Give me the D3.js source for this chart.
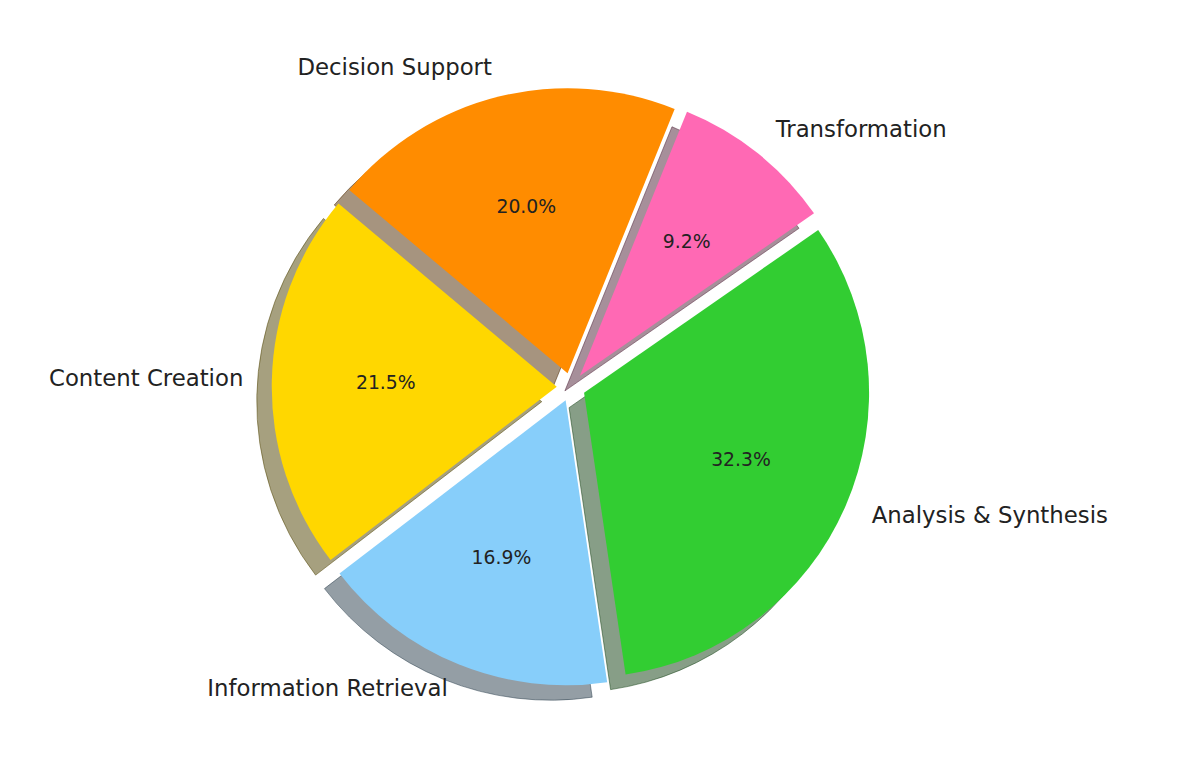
<!DOCTYPE html>
<html>
<head>
    <meta charset="utf-8">
    <title>Task categories</title>
    <style>
        body {
            margin: 0;
            background: #fff;
        }

        text {
            font-family: 'DejaVu Sans', sans-serif;
            fill: #222;
        }

        .label {
            font-size: 22.8px;
        }

        .pct {
            font-size: 18.8px;
        }
    </style>
    <script src="https://cdn.jsdelivr.net/npm/d3@7"></script>
</head>
<body>
    <script type="text/javascript">
        "use strict";
        // slices, counter-clockwise from the start angle
        var categories = ["Content Creation", "Information Retrieval", "Analysis & Synthesis", "Transformation", "Decision Support"];
        var shares = [21.5, 16.9, 32.3, 9.2, 20.0];
        var sliceColors = ["#FFD700", "#87CEFA", "#32CD32", "#FF69B4", "#FF8C00"];
        var explode = [0.05, 0.05, 0.05, 0.05, 0.05];

        const width = 1200,
            height = 762,
            cx = 571,
            cy = 387,
            radius = 285,
            shadowDx = -15,
            shadowDy = 15;

        // matplotlib startangle=140 (ccw from 3 o'clock) -> d3 angle (cw from 12 o'clock)
        var start = (90 - 140) * Math.PI / 180;

        var color = d3.scaleOrdinal().domain(categories).range(sliceColors);

        var pie = d3.pie()
            .sort(null)
            .startAngle(start)
            .endAngle(start - 2 * Math.PI)
            .value(function (d) { return d.value; });

        var arc = d3.arc().innerRadius(0).outerRadius(radius);

        var data = categories.map(function (c, i) {
            return { name: c, value: shares[i], explode: explode[i] };
        });
        var total = d3.sum(shares);
        var arcs = pie(data);

        function mid(d) { return (d.startAngle + d.endAngle) / 2; }
        function dirX(d) { return Math.sin(mid(d)); }
        function dirY(d) { return -Math.cos(mid(d)); }
        function offset(d) {
            var e = d.data.explode * radius;
            return [dirX(d) * e, dirY(d) * e];
        }
        // shadow colour: 30% of the face colour, drawn at half opacity
        function shade(d) {
            var c = d3.rgb(color(d.data.name));
            return "rgb(" + c.r * 0.3 + "," + c.g * 0.3 + "," + c.b * 0.3 + ")";
        }

        var svg = d3.select("body").append("svg")
            .attr("width", width)
            .attr("height", height)
            .append("g")
            .attr("transform", "translate(" + cx + "," + cy + ")");

        // shadows go under every wedge
        svg.append("g").attr("class", "shadows")
            .selectAll("path")
            .data(arcs)
            .enter().append("path")
            .attr("d", arc)
            .attr("transform", function (d) {
                var o = offset(d);
                return "translate(" + (o[0] + shadowDx) + "," + (o[1] + shadowDy) + ")";
            })
            .style("fill", shade)
            .style("stroke", shade)
            .style("stroke-width", 1)
            .style("fill-opacity", 0.5)
            .style("stroke-opacity", 0.5);

        svg.append("g").attr("class", "wedges")
            .selectAll("path")
            .data(arcs)
            .enter().append("path")
            .attr("d", arc)
            .attr("transform", function (d) {
                var o = offset(d);
                return "translate(" + o[0] + "," + o[1] + ")";
            })
            .style("fill", function (d) { return color(d.data.name); });

        // category labels at 1.1 r
        svg.append("g")
            .selectAll("text")
            .data(arcs)
            .enter().append("text")
            .attr("class", "label")
            .attr("x", function (d) { return offset(d)[0] + dirX(d) * 1.1 * radius; })
            .attr("y", function (d) { return offset(d)[1] + dirY(d) * 1.1 * radius; })
            .attr("dy", "0.25em")
            .attr("text-anchor", function (d) { return dirX(d) > 0 ? "start" : "end"; })
            .text(function (d) { return d.data.name; });

        // percentages at 0.6 r
        svg.append("g")
            .selectAll("text")
            .data(arcs)
            .enter().append("text")
            .attr("class", "pct")
            .attr("x", function (d) { return offset(d)[0] + dirX(d) * 0.6 * radius; })
            .attr("y", function (d) { return offset(d)[1] + dirY(d) * 0.6 * radius; })
            .attr("dy", "0.3em")
            .attr("text-anchor", "middle")
            .text(function (d) { return (d.data.value / total * 100).toFixed(1) + "%"; });
    </script>
</body>
</html>
